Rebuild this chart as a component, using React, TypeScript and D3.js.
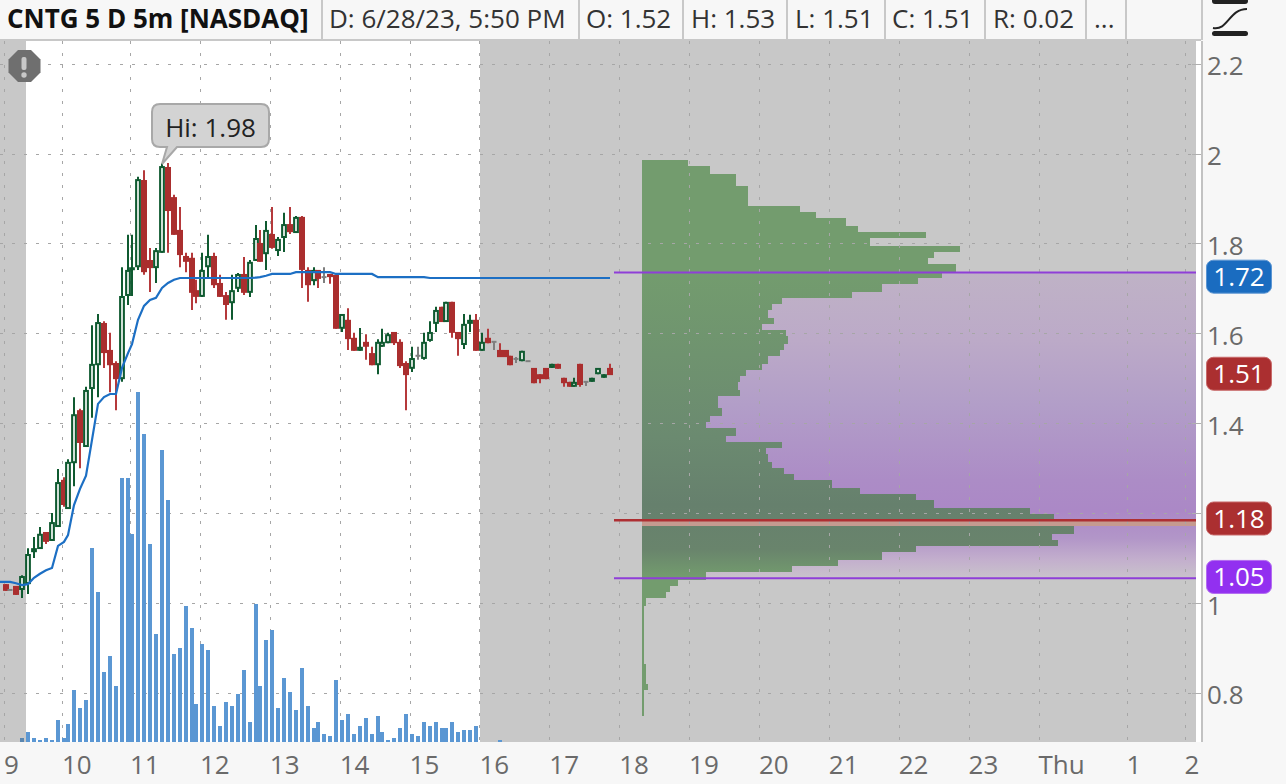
import React from "react";
import * as d3 from "d3";

const opens = [1.042,1.029,1.038,1.029,1.042,1.113,1.120,1.158,1.138,1.169,
1.274,1.209,1.311,1.429,1.347,1.476,1.529,1.623,1.563,1.534,
1.498,1.683,1.741,1.747,1.941,1.763,1.745,1.779,1.970,1.903,
1.830,1.772,1.768,1.696,1.681,1.747,1.772,1.712,1.685,1.667,
1.699,1.732,1.690,1.761,1.801,1.776,1.821,1.783,1.812,1.843,
1.823,1.859,1.741,1.716,1.741,1.725,1.732,1.730,1.610,1.630,
1.590,1.561,1.581,1.556,1.529,1.570,1.578,1.603,1.581,1.534,
1.521,1.550,1.543,1.583,1.621,1.659,1.625,1.670,1.603,1.574,
1.621,1.630,1.561,1.590,1.581,1.563,1.563,1.550,1.543,1.538,
1.538,1.523,1.509,1.523,1.523,1.532,1.501,1.492,1.481,1.532,
1.492,1.492,1.509,1.501,1.523];
const closes = [1.027,1.029,1.018,1.060,1.109,1.122,1.154,1.136,1.180,1.269,
1.218,1.314,1.420,1.356,1.474,1.532,1.625,1.556,1.529,1.498,
1.683,1.741,1.747,1.943,1.736,1.745,1.785,1.972,1.872,1.819,
1.774,1.759,1.690,1.681,1.741,1.772,1.707,1.681,1.663,1.696,
1.732,1.690,1.759,1.812,1.759,1.830,1.790,1.810,1.843,1.825,
1.859,1.741,1.707,1.741,1.721,1.725,1.725,1.610,1.643,1.587,
1.561,1.570,1.570,1.529,1.581,1.581,1.598,1.578,1.527,1.507,
1.545,1.550,1.581,1.603,1.652,1.625,1.670,1.601,1.587,1.621,
1.630,1.561,1.581,1.578,1.581,1.547,1.547,1.529,1.543,1.561,
1.538,1.489,1.498,1.498,1.532,1.521,1.489,1.481,1.492,1.485,
1.492,1.501,1.523,1.509,1.507];
const highs = [1.042,1.029,1.038,1.062,1.122,1.147,1.169,1.158,1.200,1.298,
1.280,1.320,1.458,1.432,1.481,1.618,1.643,1.627,1.601,1.538,
1.747,1.819,1.819,1.948,1.963,1.790,1.790,1.979,1.979,1.908,
1.881,1.779,1.779,1.719,1.779,1.819,1.779,1.730,1.692,1.730,
1.734,1.770,1.763,1.841,1.830,1.850,1.881,1.814,1.868,1.881,
1.861,1.861,1.747,1.747,1.741,1.747,1.732,1.730,1.643,1.656,
1.601,1.612,1.598,1.570,1.587,1.610,1.601,1.603,1.587,1.538,
1.570,1.570,1.601,1.627,1.659,1.659,1.670,1.670,1.603,1.643,
1.641,1.643,1.601,1.610,1.581,1.578,1.563,1.550,1.547,1.561,
1.538,1.523,1.509,1.523,1.532,1.532,1.501,1.492,1.501,1.532,
1.492,1.501,1.523,1.509,1.532];
const lows = [1.027,1.029,1.018,1.011,1.020,1.100,1.120,1.131,1.138,1.169,
1.214,1.209,1.260,1.300,1.347,1.412,1.458,1.523,1.469,1.429,
1.492,1.663,1.683,1.741,1.730,1.692,1.712,1.779,1.779,1.819,
1.747,1.736,1.652,1.667,1.681,1.725,1.701,1.681,1.630,1.630,
1.692,1.685,1.681,1.761,1.759,1.741,1.788,1.772,1.781,1.821,
1.823,1.701,1.670,1.707,1.701,1.712,1.710,1.610,1.603,1.563,
1.561,1.561,1.541,1.529,1.509,1.570,1.578,1.574,1.523,1.429,
1.514,1.541,1.541,1.581,1.603,1.625,1.625,1.590,1.550,1.565,
1.603,1.561,1.561,1.578,1.563,1.547,1.547,1.529,1.534,1.538,
1.538,1.489,1.489,1.498,1.523,1.521,1.481,1.481,1.481,1.481,
1.483,1.492,1.509,1.501,1.507];
const volumes = [0,0,0,4,10,4,2,4,2,22,4,18,
52,34,42,194,150,70,86,56,264,264,
208,350,308,198,108,292,242,88,94,136,114,
38,98,92,36,16,40,36,48,72,20,
138,56,102,112,34,64,50,32,74,36,14,
20,8,6,62,22,28,8,16,24,8,
26,10,2,4,14,28,8,6,20,16,
20,14,14,20,10,12,12,16,
0,0,0,2,0,0,0,0,0,0,0,0,0,0,0,0,0,0,0,0,0,0,0];
const vwap = [1.047,1.047,1.044,1.040,1.042,1.056,1.065,1.073,1.078,1.127,1.136,1.151,
1.218,1.254,1.283,1.363,1.443,1.458,1.465,1.465,1.523,1.556,1.576,1.630,1.661,1.674,1.679,1.701,1.712,1.719,
1.723,1.723,1.723,1.723,1.723,1.723,1.723,1.723,1.723,1.723,1.723,1.723,1.723,
1.724,1.725,1.728,1.732,1.732,1.732,1.732,
1.736,1.736,1.736,1.736,1.736,1.736,1.736,
1.732,1.732,1.732,1.732,1.732,1.732,1.732,
1.725,1.725,1.725,1.725,1.725,1.725,1.725,1.725,1.725,
1.723,1.723,1.723,1.723,1.723,1.723,1.723,1.723,1.723,1.723,1.723,1.723,1.723,1.723,1.723,1.723,
1.723,1.723,1.723,1.723,1.723,1.723,1.723,1.723,1.723,1.723,1.723,1.723,1.723,1.723,1.723,1.723];
const vwapLeadIn = 1.047;
const profile = [46,68,94,94,106,106,106,158,174,204,
216,284,228,318,292,286,314,300,276,240,
210,140,130,126,132,120,144,146,142,138,
126,120,104,98,96,98,76,76,80,68,
64,94,84,140,124,126,130,142,152,190,
218,274,292,388,412,554,432,410,416,274,
240,196,150,64,36,28,24,4,
2,2,2,2,2,2,2,2,2,4,4,4,6,2,2,2,2];
const profileTop = 1.9855;
const profileBin = 0.01457;
const pocIndex = 55;
const vaHigh = 1.735;
const vaLow = 1.055;
const poc = 1.184;
const priceTicks = [2.2, 2, 1.8, 1.6, 1.4, 1.2, 1, 0.8];
const priceTickLabels = ["2.2", "2", "1.8", "1.6", "1.4", "", "1", "0.8"];
const timeLabels = ["9","10","11","12","13","14","15","16","17","18","19","20","21","22","23","Thu","1","2"];
const headerCells = [
  "D: 6/28/23, 5:50 PM", "O: 1.52", "H: 1.53", "L: 1.51", "C: 1.51", "R: 0.02", "...",
];
const priceTags = [
  { text: "1.72", price: 1.726, fill: "#1a6cc0", edge: "#5b95d2" },
  { text: "1.51", price: 1.51, fill: "#ab2f30", edge: "#c86a6a" },
  { text: "1.18", price: 1.188, fill: "#ab2f30", edge: "#c86a6a" },
  { text: "1.05", price: 1.058, fill: "#9230f0", edge: "#b26cf0" },
];

const FONT = "'Open Sans', sans-serif";
const W = 1286, H = 784;
const plotTop = 41, plotBottom = 742, plotRight = 1196;

const y = d3.scaleLinear().domain([1, 2]).range([603, 153.5]);
const barX = d3.scaleLinear()
  .domain([-1, 0, 1, 11, 22, 33, 44, 54, 65, 76, 87, 98, 104])
  .range([0, 6, 10, 68, 132, 196, 260, 318, 382, 446, 510, 574, 610]);
const snapEven = (v: number) => 2 * Math.ceil(v / 2 - 1e-6);
const cx = (i: number) => (i < 0 ? barX(i) : snapEven(barX(i)));
const volY = d3.scaleLinear().domain([0, 350]).range([plotBottom, 392]);
const profX = d3.scaleLinear().domain([0, 554]).range([642, plotRight]);
const snapRow = (v: number) => 2 * Math.round(v / 2);
const tickX = d3.scaleLinear()
  .domain([0, 1, 2, 15, 16, 17])
  .range([4, 62, 130, 1038.5, 1126.5, 1184.5]);

const vwapLine = d3.line<number>()
  .x((_, k) => cx(k - 1))
  .y((p) => y(p));

const RED = "#aa2e2e", REDW = "#b5393b", GREEN = "#0f5a30", GRAY = "#7f7f7f";

export default function App() {
  const candles = opens.map((o, i) => ({ i, o, c: closes[i], h: highs[i], l: lows[i] }));
  return (
    <svg width={W} height={H} style={{ position: "fixed", left: 0, top: 0, display: "block", fontFamily: FONT }}>
      <defs>
        <linearGradient id="va" gradientUnits="userSpaceOnUse" x1="0" x2="0" y1={y(vaHigh)} y2={y(vaLow)}>
          <stop offset="0" stopColor="#bfb2c6" />
          <stop offset="0.22" stopColor="#bcaac8" />
          <stop offset="0.43" stopColor="#b29ec8" />
          <stop offset="0.68" stopColor="#ac8cc6" />
          <stop offset="0.78" stopColor="#ab88c6" />
          <stop offset="0.87" stopColor="#b296c8" />
          <stop offset="0.94" stopColor="#c3afcd" />
          <stop offset="1" stopColor="#c9c3cb" />
        </linearGradient>
        <linearGradient id="pg" gradientUnits="userSpaceOnUse" x1="0" x2="0" y1="160" y2="716">
          <stop offset="0" stopColor="#739c6e" />
          <stop offset="0.2" stopColor="#739c6e" />
          <stop offset="0.5" stopColor="#6b8a70" />
          <stop offset="0.62" stopColor="#66806d" />
          <stop offset="0.7" stopColor="#69846c" />
          <stop offset="0.75" stopColor="#739c6e" />
          <stop offset="1" stopColor="#739c6e" />
        </linearGradient>
        <clipPath id="plotClip"><rect x={0} y={plotTop} width={plotRight} height={plotBottom - plotTop} /></clipPath>
      </defs>
      <rect x={0} y={0} width={W} height={H} fill="#f7f7f7" />
      <rect x={0} y={plotTop} width={plotRight} height={plotBottom - plotTop} fill="#c8c8c8" />
      <rect x={26} y={plotTop} width={454} height={plotBottom - plotTop} fill="#ffffff" />
      <rect x={plotRight} y={plotTop} width={5} height={plotBottom - plotTop} fill="#ffffff" />
      <rect x={1201} y={plotTop} width={2} height={plotBottom - plotTop} fill="#c2c2c2" />

      {/* value area and volume profile */}
      <rect x={profX(0)} y={y(vaHigh)} width={plotRight - profX(0)} height={y(vaLow) - y(vaHigh)} fill="url(#va)" />
      {profile.map((v, k) => {
        const y0 = snapRow(y(profileTop - k * profileBin));
        const y1 = snapRow(y(profileTop - (k + 1) * profileBin));
        return (
          <rect key={k} x={profX(0)} y={y0} width={profX(v) - profX(0)} height={y1 - y0}
            fill={k === pocIndex ? "#c59a90" : "url(#pg)"} />
        );
      })}

      {/* grid */}
      <g clipPath="url(#plotClip)" stroke="#a6a6a6" strokeWidth={1}>
        {priceTicks.map((p) => (
          <line key={p} x1={0} x2={plotRight} y1={Math.round(y(p)) + 0.5} y2={Math.round(y(p)) + 0.5} strokeDasharray="3 9" />
        ))}
        {timeLabels.map((_, k) => (
          <line key={k} x1={Math.round(tickX(k)) + 0.5} x2={Math.round(tickX(k)) + 0.5} y1={plotTop} y2={plotBottom} strokeDasharray="3 9" />
        ))}
      </g>
      {priceTicks.map((p) => (
        <line key={p} x1={1192} x2={1201} y1={Math.round(y(p)) + 0.5} y2={Math.round(y(p)) + 0.5} stroke="#b0b0b0" />
      ))}

      {/* volume */}
      {volumes.map((v, i) => v > 0 && (
        <rect key={i} x={cx(i) - 2} y={volY(v)} width={4} height={plotBottom - volY(v)} fill={i < 4 ? "#5a86b0" : "#5b97d3"} />
      ))}

      {/* candles */}
      {candles.map(({ i, o, c, h, l }) => {
        const x = cx(i);
        const up = c > o;
        const doji = c === o;
        const top = y(Math.max(o, c));
        const bot = y(Math.min(o, c));
        const col = doji ? GRAY : up ? GREEN : RED;
        return (
          <g key={i}>
            <line x1={x} x2={x} y1={y(h)} y2={y(l)} stroke={doji ? GRAY : up ? GREEN : REDW} strokeWidth={2} />
            {doji ? (
              <rect x={x - 2.5} y={top - 1} width={5} height={2} fill={col} />
            ) : up ? (
              <rect x={x - 1.9} y={top + 1} width={3.8} height={Math.max(bot - top - 2, 1)} fill="#ffffff" fillOpacity={0.9} stroke={col} strokeWidth={2} />
            ) : (
              <rect x={x - 3} y={top} width={6} height={bot - top} fill={col} />
            )}
          </g>
        );
      })}

      {/* vwap */}
      <path d={vwapLine([vwapLeadIn, ...vwap]) as string} fill="none" stroke="#1c6fc4" strokeWidth={2.2} />

      {/* levels */}
      <line x1={614} x2={plotRight} y1={y(vaHigh)} y2={y(vaHigh)} stroke="#8f3ed8" strokeWidth={2} />
      <line x1={614} x2={plotRight} y1={y(vaLow)} y2={y(vaLow)} stroke="#8f3ed8" strokeWidth={2} />
      <line x1={614} x2={plotRight} y1={y(poc)} y2={y(poc)} stroke="#ae2f33" strokeWidth={2.4} />

      {/* alert */}
      <polygon points="18,50 31,50 40.5,59.5 40.5,72.5 31,82 18,82 8.5,72.5 8.5,59.5" fill="#6f6f6f" />
      <rect x={21.5} y={57} width={5} height={13} rx={2} fill="#c8c8c8" />
      <circle cx={24} cy={75} r={2.7} fill="#c8c8c8" />

      {/* hi callout */}
      <path d="M160 104 H261 Q269 104 269 112 V139 Q269 147 261 147 H177 L162 164 L167 147 H160 Q152 147 152 139 V112 Q152 104 160 104 Z"
        fill="#d3d3d3" stroke="#a8a8a8" strokeWidth={2} />
      <text x={210.5} y={137} textAnchor="middle" fontSize={26} fill="#222">Hi: 1.98</text>

      {/* price axis */}
      {priceTicks.map((p, k) => priceTickLabels[k] && (
        <text key={p} x={1207} y={y(p) + 11.5} fontSize={26} fill="#6a6a6a">{priceTickLabels[k]}</text>
      ))}
      {priceTags.map((t) => (
        <g key={t.text}>
          <rect x={1206.5} y={y(t.price) - 16.5} width={65} height={33} rx={7} fill={t.fill} stroke={t.edge} strokeWidth={1} />
          <text x={1239} y={y(t.price) + 9.5} textAnchor="middle" fontSize={26} fill="#ffffff">{t.text}</text>
        </g>
      ))}

      {/* time axis */}
      {timeLabels.map((t, k) => (
        <text key={k} x={tickX(k)} y={774} fontSize={26} fill="#6a6a6a">{t}</text>
      ))}

      {/* header */}
      <rect x={0} y={39} width={1201} height={2} fill="#c8c8c8" />
      {[321, 578, 682, 786, 884, 984, 1085, 1125, 1201].map((sx) => (
        <rect key={sx} x={sx} y={0} width={2} height={40} fill="#c8c8c8" />
      ))}
      <text x={7} y={28} fontSize={26} fontWeight={700} fill="#111">CNTG 5 D 5m [NASDAQ]</text>
      {headerCells.map((c, k) => (
        <text key={c} x={[329, 586, 691, 795, 892, 993, 1094][k]} y={28} fontSize={26} fill="#333">{c}</text>
      ))}

      {/* studies icon */}
      <rect x={1212} y={-2} width={36} height={6} rx={3} fill="#222" />
      <rect x={1212} y={31} width={36} height={5} rx={2.5} fill="#222" />
      <path d="M1213 28 C1228 31 1229 9 1247 9" fill="none" stroke="#222" strokeWidth={2} />
    </svg>
  );
}
